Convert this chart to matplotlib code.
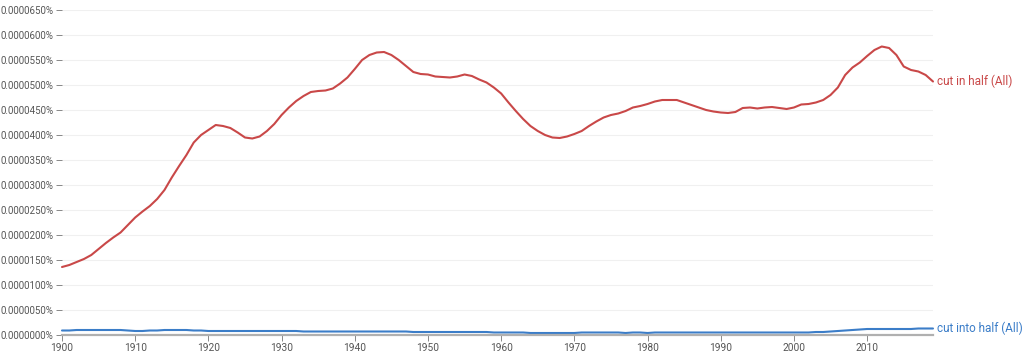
import matplotlib.pyplot as plt
import numpy as np
from matplotlib.ticker import FuncFormatter

plt.rcParams["font.family"] = ["Roboto", "DejaVu Sans"]

years = list(range(1900, 2020))

# frequency in percent (x 1e-5)
cut_in_half = [
    1.36, 1.40, 1.46, 1.52, 1.60, 1.72, 1.84, 1.95, 2.05, 2.20,
    2.35, 2.47, 2.58, 2.72, 2.90, 3.15, 3.38, 3.60, 3.85, 4.00,
    4.10, 4.20, 4.18, 4.14, 4.05, 3.95, 3.93, 3.97, 4.08, 4.22,
    4.40, 4.55, 4.68, 4.78, 4.86, 4.88, 4.89, 4.93, 5.03, 5.15,
    5.32, 5.50, 5.60, 5.65, 5.66, 5.60, 5.50, 5.38, 5.26, 5.22,
    5.21, 5.17, 5.16, 5.15, 5.17, 5.21, 5.18, 5.11, 5.05, 4.95,
    4.83, 4.65, 4.48, 4.32, 4.18, 4.08, 4.00, 3.95, 3.94, 3.97,
    4.02, 4.08, 4.18, 4.27, 4.35, 4.40, 4.43, 4.48, 4.55, 4.58,
    4.62, 4.67, 4.70, 4.70, 4.70, 4.65, 4.60, 4.55, 4.50, 4.47,
    4.45, 4.44, 4.46, 4.54, 4.55, 4.53, 4.55, 4.56, 4.54, 4.52,
    4.55, 4.61, 4.62, 4.65, 4.70, 4.80, 4.95, 5.20, 5.35, 5.45,
    5.58, 5.70, 5.77, 5.74, 5.60, 5.37, 5.30, 5.27, 5.20, 5.07,
]
cut_into_half = [
    0.09, 0.09, 0.10, 0.10, 0.10, 0.10, 0.10, 0.10, 0.10, 0.09,
    0.08, 0.08, 0.09, 0.09, 0.10, 0.10, 0.10, 0.10, 0.09, 0.09,
    0.08, 0.08, 0.08, 0.08, 0.08, 0.08, 0.08, 0.08, 0.08, 0.08,
    0.08, 0.08, 0.08, 0.07, 0.07, 0.07, 0.07, 0.07, 0.07, 0.07,
    0.07, 0.07, 0.07, 0.07, 0.07, 0.07, 0.07, 0.07, 0.06, 0.06,
    0.06, 0.06, 0.06, 0.06, 0.06, 0.06, 0.06, 0.06, 0.06, 0.05,
    0.05, 0.05, 0.05, 0.05, 0.04, 0.04, 0.04, 0.04, 0.04, 0.04,
    0.04, 0.05, 0.05, 0.05, 0.05, 0.05, 0.05, 0.04, 0.05, 0.05,
    0.04, 0.05, 0.05, 0.05, 0.05, 0.05, 0.05, 0.05, 0.05, 0.05,
    0.05, 0.05, 0.05, 0.05, 0.05, 0.05, 0.05, 0.05, 0.05, 0.05,
    0.05, 0.05, 0.05, 0.06, 0.06, 0.07, 0.08, 0.09, 0.10, 0.11,
    0.12, 0.12, 0.12, 0.12, 0.12, 0.12, 0.12, 0.13, 0.13, 0.13,
]
labels = ["cut in half (All)", "cut into half (All)"]
colors = ["#c94848", "#3b7dc8"]

fig = plt.figure(figsize=(10.24, 3.52), dpi=100)
ax = fig.add_axes([62 / 1024, 17 / 352, 871 / 1024, 325 / 352])

series = [np.array(cut_in_half) * 1e-5, np.array(cut_into_half) * 1e-5]
for vals, lab, col in zip(series, labels, colors):
    ax.plot(years, vals, color=col, lw=1.5, solid_capstyle="round",
            solid_joinstyle="round", clip_on=False)
    ax.annotate(lab, (years[-1], vals[-1]), xytext=(3, 0), textcoords="offset points",
                va="center", ha="left", color=col, fontsize=8.5)

ax.set_xlim(1900, 2019)
ax.set_ylim(0, 6.5e-5)
ax.set_yticks(np.arange(0, 6.51e-5, 0.5e-5))
ax.yaxis.set_major_formatter(FuncFormatter(lambda v, p: f"{v:.7f}%"))
ax.set_xticks(range(1900, 2011, 10))

for s in ["top", "right", "left"]:
    ax.spines[s].set_visible(False)
ax.spines["bottom"].set_color("#b0b0b0")
ax.spines["bottom"].set_linewidth(1.6)

ax.grid(axis="y", color="#f0f0f0", lw=0.8)
ax.set_axisbelow(True)
ax.tick_params(axis="y", length=4, width=0.7, color="#888888", labelcolor="#555555",
               labelsize=7, pad=2)
ax.tick_params(axis="x", length=4, width=0.7, color="#888888", labelcolor="#555555",
               labelsize=7.3, pad=2)

fig.savefig("out.png", dpi=100)
